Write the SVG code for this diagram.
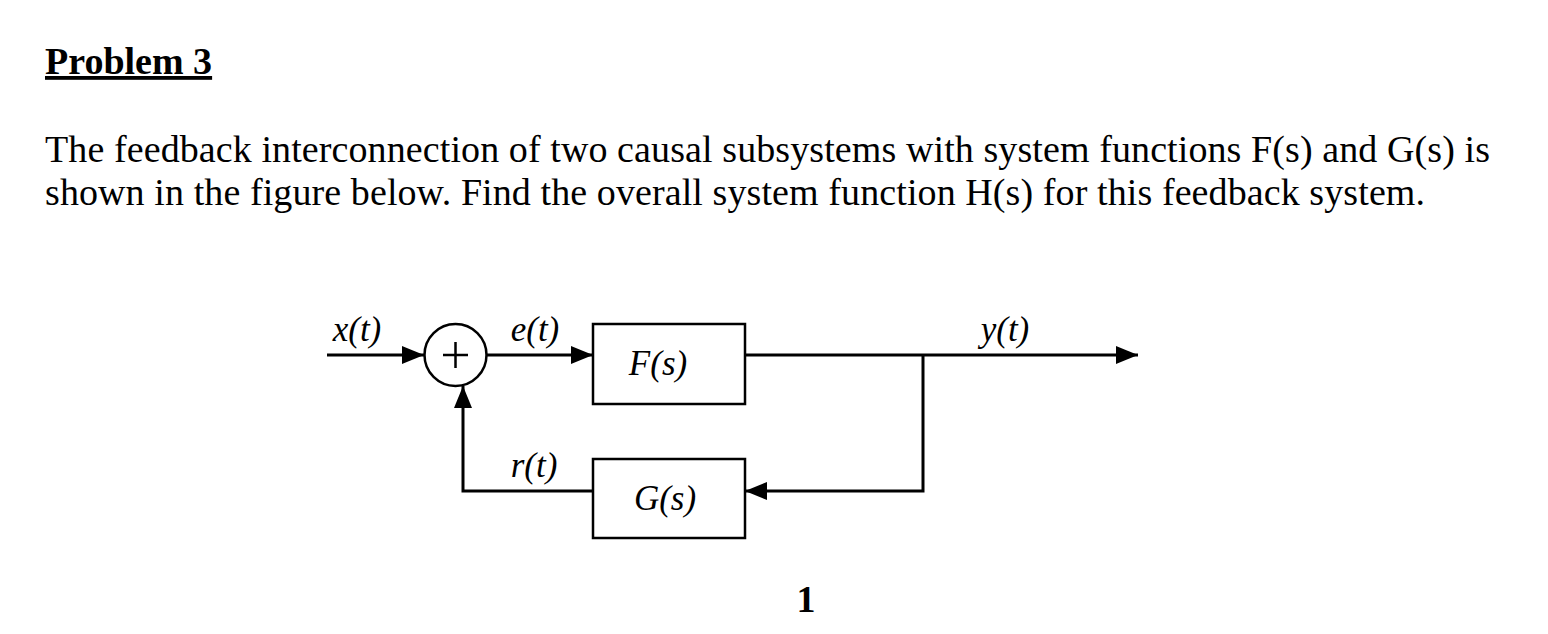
<svg xmlns="http://www.w3.org/2000/svg" width="1548" height="634" viewBox="0 0 1548 634">
<style>
.t{font-family:"Liberation Serif",serif;font-size:38px;fill:#000}
.m{font-family:"Liberation Serif",serif;font-size:35px;font-style:italic;fill:#000}
.b{fill:#fff;stroke:#000;stroke-width:2.5}
.c{fill:none;stroke:#000;stroke-width:3}
</style>
<defs>
<marker id="A" markerWidth="22" markerHeight="18" refX="22" refY="9" orient="auto" markerUnits="userSpaceOnUse" viewBox="0 0 22 18"><path d="M0,0L22,9L0,18z" fill="#000"/></marker></defs>
<rect width="1548" height="634" fill="#fff"/>
<text class="t" x="45" y="74" font-weight="bold" text-decoration="underline">Problem 3</text>
<text class="t" x="45" y="162" textLength="1445" lengthAdjust="spacing">The feedback interconnection of two causal subsystems with system functions F(s) and G(s) is</text>
<text class="t" x="45" y="205" textLength="1380" lengthAdjust="spacing">shown in the figure below. Find the overall system function H(s) for this feedback system.</text>
<text class="t" x="806" y="612" font-size="26" font-weight="bold" text-anchor="middle">1</text>
<g id="connectors">
<path class="c" d="M327,355H424" marker-end="url(#A)"/>
<path class="c" d="M487,355H593" marker-end="url(#A)"/>
<path class="c" d="M745,355H1138" marker-end="url(#A)"/>
<path class="c" d="M923,355V491H745" marker-end="url(#A)"/>
<path class="c" d="M593,491H463V386" marker-end="url(#A)"/>
</g>
<g id="sum"><circle class="b" cx="455.5" cy="355" r="31"/><path d="M443,355H468M455.5,342V368" stroke="#000" stroke-width="2.5"/></g>
<g id="F"><rect class="b" x="593" y="324" width="152" height="80"/><text class="m" x="658" y="375" text-anchor="middle">F(s)</text></g>
<g id="G"><rect class="b" x="593" y="459" width="152" height="79"/><text class="m" x="665" y="510" text-anchor="middle">G(s)</text></g>
<text class="m" x="357" y="341" text-anchor="middle">x(t)</text>
<text class="m" x="535" y="341" text-anchor="middle">e(t)</text>
<text class="m" x="1005" y="341" text-anchor="middle">y(t)</text>
<text class="m" x="534" y="477" text-anchor="middle">r(t)</text>
</svg>
